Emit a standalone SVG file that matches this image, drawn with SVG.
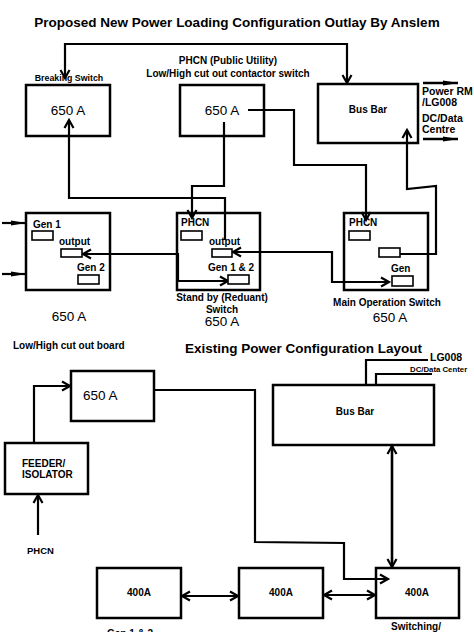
<svg xmlns="http://www.w3.org/2000/svg" width="474" height="632" viewBox="0 0 474 632">
<style>
text{font-family:"Liberation Sans",Arial,sans-serif;fill:#000}
.b{font-weight:bold}
.box{fill:none;stroke:#000;stroke-width:2.5}
.sm{fill:#fff;stroke:#000;stroke-width:1.6}
.c{fill:none;stroke:#000;stroke-width:2.2;stroke-linejoin:miter}
.c2{fill:none;stroke:#000;stroke-width:2.6}
</style>
<defs>
<marker id="a" markerUnits="userSpaceOnUse" markerWidth="12" markerHeight="12" refX="9" refY="5" orient="auto-start-reverse" viewBox="0 0 12 10">
<path d="M1,0.5 L9,5 L1,9.5" fill="none" stroke="#000" stroke-width="2.2"/>
</marker>
<marker id="f" markerUnits="userSpaceOnUse" markerWidth="16" markerHeight="8" refX="15" refY="4" orient="auto" viewBox="0 0 16 8">
<path d="M0,1.5 L15,4 L0,6.5 Z" fill="#000"/>
</marker>
</defs>
<rect width="474" height="632" fill="#fff"/>

<text x="237" y="27" class="b" font-size="13.5" text-anchor="middle">Proposed New Power Loading Configuration Outlay By Anslem</text>
<text x="228" y="64" class="b" font-size="10" text-anchor="middle">PHCN (Public Utility)</text>
<text x="228" y="77" class="b" font-size="10" text-anchor="middle">Low/High cut out contactor switch</text>

<g id="connectors">
<path class="c" d="M65,78 L65,44 L347,44 L347,83" marker-start="url(#a)" marker-end="url(#a)"/>
<path class="c" d="M225,240 L225,198 L69,198 L69,120" marker-end="url(#a)"/>
<path class="c" d="M224,122 L224,186 L192,186 L192,218" marker-end="url(#a)"/>
<path class="c" d="M248,110 L294,110 L294,165 L366,165 L366,220" marker-end="url(#a)"/>
<path class="c" d="M400,254 L436,254 L436,186 L407,189 L407,130" marker-end="url(#a)"/>
<path class="c" d="M83,254 L178,254 L178,281 L228,281" marker-start="url(#a)" marker-end="url(#a)"/>
<path class="c" d="M233,252 L332,252 L332,282 L389,282" marker-start="url(#a)" marker-end="url(#a)"/>
<path class="c" d="M2,223 L26,223" marker-end="url(#f)"/>
<path class="c" d="M2,274 L26,274" marker-end="url(#f)"/>
<path class="c2" d="M423,83 L458,83" marker-end="url(#f)"/>
<path class="c2" d="M423,139 L458,139" marker-end="url(#f)"/>

<path class="c" d="M34,443 L34,386 L70,386" marker-end="url(#a)"/>
<path class="c" d="M38,535 L38,495" marker-end="url(#a)"/>
<path class="c" d="M154,390 L255,390 L255,542 L344,543 L344,579 L388,579" marker-end="url(#a)"/>
<path class="c2" d="M392,446 L392,567" marker-start="url(#a)" marker-end="url(#a)"/>
<path class="c" d="M182,596 L238,596" marker-start="url(#a)" marker-end="url(#a)"/>
<path class="c" d="M324,595 L375,595" marker-start="url(#a)" marker-end="url(#a)"/>
<path class="c" d="M366,384 L366,360 L428,360"/>
<path class="c" d="M376,384 L376,374 L432,374"/>
</g>

<g id="breaking-switch">
<text x="69" y="81" class="b" font-size="8.8" text-anchor="middle">Breaking Switch</text>
<rect x="26" y="85" width="84" height="51" class="box"/>
<text x="68" y="115" font-size="13.5" text-anchor="middle">650 A</text>
</g>

<g id="phcn-switch">
<rect x="180" y="85" width="84" height="51" class="box"/>
<text x="222" y="115" font-size="13.5" text-anchor="middle">650 A</text>
</g>

<g id="bus-bar-1">
<rect x="318" y="84" width="100" height="59" class="box"/>
<text x="368" y="113" class="b" font-size="10" text-anchor="middle">Bus Bar</text>
<text x="422" y="95" class="b" font-size="10.5">Power RM</text>
<text x="422" y="106" class="b" font-size="10.5">/LG008</text>
<text x="422" y="122" class="b" font-size="10.5">DC/Data</text>
<text x="422" y="133" class="b" font-size="10.5">Centre</text>
</g>

<g id="gen-switch">
<rect x="26" y="213" width="84" height="77" class="box"/>
<text x="33" y="228" class="b" font-size="10">Gen 1</text>
<rect x="32" y="231" width="21" height="9" class="sm"/>
<text x="59" y="245" class="b" font-size="10">output</text>
<rect x="61" y="249" width="21" height="8" class="sm"/>
<text x="77" y="271" class="b" font-size="10">Gen 2</text>
<rect x="78" y="275" width="21" height="9" class="sm"/>
<text x="69" y="321" font-size="13.5" text-anchor="middle">650 A</text>
</g>

<g id="standby-switch">
<rect x="177" y="213" width="83" height="77" class="box"/>
<text x="181" y="226" class="b" font-size="10">PHCN</text>
<rect x="181" y="231" width="21" height="9" class="sm"/>
<text x="209" y="245" class="b" font-size="10">output</text>
<rect x="212" y="249" width="20" height="8" class="sm"/>
<text x="208" y="271" class="b" font-size="10">Gen 1 &amp; 2</text>
<rect x="228" y="275" width="21" height="9" class="sm"/>
<text x="222" y="301" class="b" font-size="10" text-anchor="middle">Stand by (Reduant)</text>
<text x="222" y="313" class="b" font-size="10" text-anchor="middle">Switch</text>
<text x="222" y="326" font-size="13.5" text-anchor="middle">650 A</text>
</g>

<g id="main-switch">
<rect x="344" y="213" width="84" height="77" class="box"/>
<text x="349" y="226" class="b" font-size="10">PHCN</text>
<rect x="349" y="231" width="21" height="9" class="sm"/>
<rect x="379" y="248" width="21" height="9" class="sm"/>
<text x="391" y="272" class="b" font-size="10">Gen</text>
<rect x="392" y="276" width="21" height="10" class="sm"/>
<text x="387" y="306" class="b" font-size="10" text-anchor="middle">Main Operation Switch</text>
<text x="390" y="322" font-size="13.5" text-anchor="middle">650 A</text>
</g>

<text x="13" y="349" class="b" font-size="10">Low/High cut out board</text>
<text x="185" y="353" class="b" font-size="13.5">Existing Power Configuration Layout</text>

<g id="cutout-650">
<rect x="71" y="371" width="83" height="50" class="box"/>
<text x="83" y="400" font-size="13.5">650 A</text>
</g>

<g id="bus-bar-2">
<rect x="273" y="385" width="161" height="60" class="box"/>
<text x="355" y="415" class="b" font-size="10" text-anchor="middle">Bus Bar</text>
<text x="430" y="361" class="b" font-size="10.5">LG008</text>
<text x="410" y="372" class="b" font-size="7.8">DC/Data Center</text>
</g>

<g id="feeder">
<rect x="5" y="443" width="83" height="51" class="box"/>
<text x="22" y="467" class="b" font-size="10">FEEDER/</text>
<text x="22" y="478" class="b" font-size="10">ISOLATOR</text>
<text x="27" y="554" class="b" font-size="9.5">PHCN</text>
</g>

<g id="box-400a-1">
<rect x="97" y="568" width="84" height="50" class="box"/>
<text x="139" y="596" class="b" font-size="10" text-anchor="middle">400A</text>
<text x="130" y="637" class="b" font-size="10" text-anchor="middle">Gen 1 &amp; 2</text>
</g>

<g id="box-400a-2">
<rect x="239" y="568" width="84" height="50" class="box"/>
<text x="281" y="596" class="b" font-size="10" text-anchor="middle">400A</text>
</g>

<g id="box-400a-3">
<rect x="376" y="568" width="83" height="50" class="box"/>
<text x="417" y="596" class="b" font-size="10" text-anchor="middle">400A</text>
<text x="416" y="630" class="b" font-size="10" text-anchor="middle">Switching/</text>
</g>
</svg>
